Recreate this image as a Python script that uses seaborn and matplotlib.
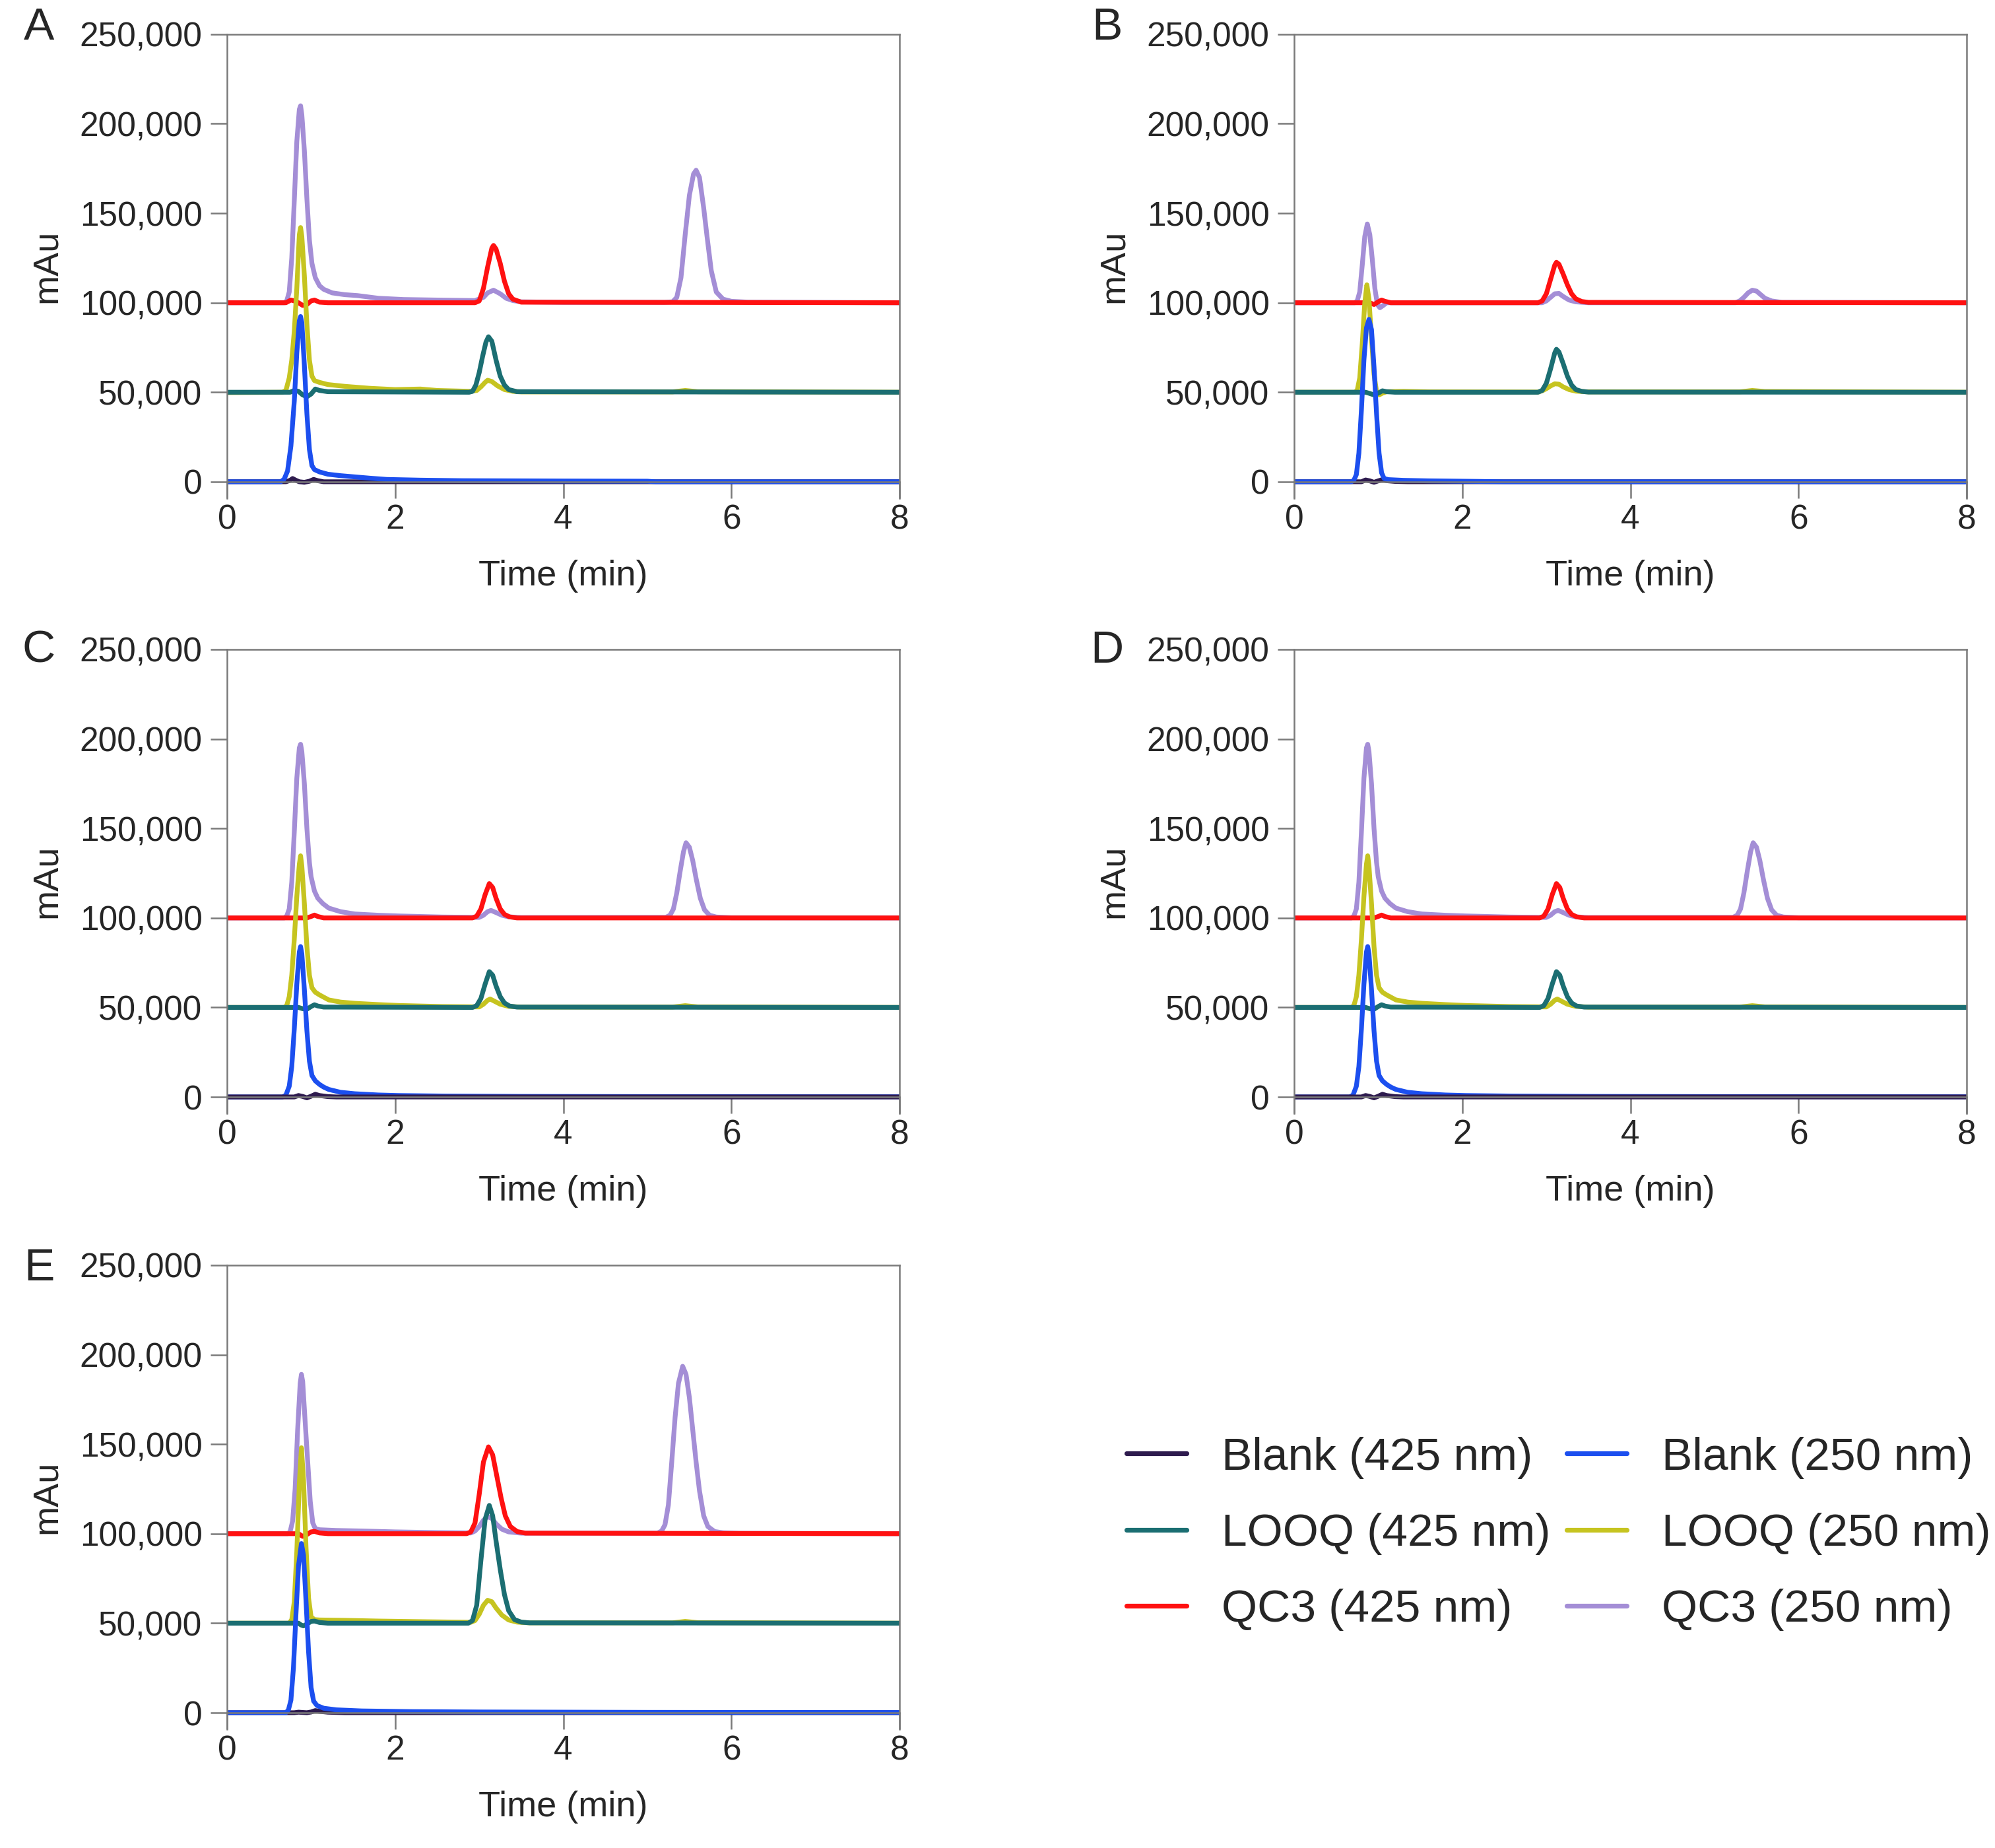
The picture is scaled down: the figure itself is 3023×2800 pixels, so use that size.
import matplotlib
matplotlib.use("Agg")
import matplotlib.pyplot as plt
from matplotlib.lines import Line2D
from matplotlib.ticker import FuncFormatter
import pandas as pd
import seaborn as sns

# trace names
BLANK_425 = "Blank (425 nm)"
BLANK_250 = "Blank (250 nm)"
LOOQ_425 = "LOOQ (425 nm)"
LOOQ_250 = "LOOQ (250 nm)"
QC3_425 = "QC3 (425 nm)"
QC3_250 = "QC3 (250 nm)"

TRACE_COLORS = {
    BLANK_425: "#2E1B4E",
    BLANK_250: "#1C4FEF",
    LOOQ_425: "#1B6E72",
    LOOQ_250: "#C6C420",
    QC3_425: "#FF1111",
    QC3_250: "#A48ED6",
}

# ---- data: time (min) / signal (thousand mAu) ----
# panel A
A_BLANK425_T = [0, 0.70, 0.75, 0.78, 0.82, 0.86, 0.92, 0.98, 1.03, 1.08, 1.15, 8]
A_BLANK425_Y = [0, 0, 0.8, 1.8, 0.8, 0, -0.3, 0.3, 1.3, 0.6, 0, 0]
A_BLANK250_T = [0, 0.64, 0.68, 0.72, 0.76, 0.80, 0.83, 0.86, 0.875, 0.89, 0.92, 0.95, 0.98, 1.01, 1.04,
                1.10, 1.20, 1.35, 1.50, 1.70, 1.90, 2.30, 2.80, 4.00, 5.00, 5.10, 8]
A_BLANK250_Y = [0, 0, 1.5, 6, 20, 45, 72, 90, 92.3, 89, 65, 38, 18, 9, 6.8,
                5.5, 4.2, 3.4, 2.8, 2.0, 1.3, 0.9, 0.6, 0.4, 0.3, 0, 0]
A_LOOQ425_T = [0, 0.75, 0.80, 0.85, 0.90, 0.95, 1.00, 1.05, 1.10, 1.20, 2.88, 2.92, 2.96, 3.00, 3.04,
               3.08, 3.11, 3.15, 3.20, 3.25, 3.30, 3.35, 3.45, 8]
A_LOOQ425_Y = [50, 50, 51, 50.5, 48.5, 47.5, 49, 51.8, 51, 50.3, 50, 50.5, 54, 61, 70,
               78, 81, 78.5, 68, 59, 54, 51.5, 50.3, 50]
A_LOOQ250_T = [0, 0.66, 0.70, 0.74, 0.77, 0.80, 0.83, 0.86, 0.875, 0.89, 0.92, 0.95, 0.98, 1.01, 1.04,
               1.10, 1.20, 1.40, 1.70, 2.00, 2.30, 2.50, 2.90, 2.97, 3.02, 3.07, 3.10, 3.15, 3.22, 3.30,
               3.40, 3.50, 5.30, 5.45, 5.60, 8]
A_LOOQ250_Y = [49.8, 50, 51, 58, 68, 84, 108, 138, 142, 137, 115, 88, 68, 59, 56.5,
               55.5, 54.3, 53.3, 52.2, 51.5, 51.8, 51, 50.5, 51, 53, 55.5, 56.7, 56, 53.5, 51.5,
               50.5, 50.2, 50.2, 51, 50.3, 50]
A_QC3425_T = [0, 0.70, 0.76, 0.80, 0.85, 0.90, 0.95, 1.00, 1.04, 1.10, 1.20, 2.95, 3.00, 3.05, 3.10,
              3.15, 3.17, 3.20, 3.25, 3.30, 3.35, 3.40, 3.50, 8]
A_QC3425_Y = [100, 100, 101.5, 101, 100, 98.5, 99, 101, 101.5, 100.3, 100, 100, 101, 108, 120,
              130.5, 132, 130, 122, 112, 105, 102, 100.3, 100]
A_QC3250_T = [0, 0.68, 0.71, 0.74, 0.77, 0.80, 0.83, 0.86, 0.875, 0.89, 0.92, 0.95, 0.98, 1.01, 1.05,
              1.10, 1.15, 1.25, 1.40, 1.55, 1.80, 2.10, 2.50, 2.95, 3.05, 3.10, 3.17, 3.25, 3.32, 3.40,
              3.50, 4.00, 5.20, 5.30, 5.35, 5.40, 5.45, 5.50, 5.55, 5.58, 5.62, 5.67, 5.71, 5.76, 5.82,
              5.90, 6.00, 6.20, 8]
A_QC3250_Y = [100, 100, 101, 106, 125, 157, 190, 208, 210, 205, 185, 158, 135, 122, 114,
              109.5, 107.5, 105.5, 104.5, 104, 102.5, 101.8, 101.5, 101.2, 103, 105.5, 107, 105, 102.5, 101.2,
              100.5, 100.2, 100.2, 100.5, 103, 114, 138, 160, 172, 174, 170, 153, 137, 118, 106,
              102, 100.8, 100.3, 100]

# panel B
B_BLANK425_T = [0, 0.80, 0.85, 0.90, 0.95, 1.00, 1.05, 1.10, 1.20, 1.35, 8]
B_BLANK425_Y = [0, 0, 1.0, 0.5, -0.3, 0.5, 1.2, 0.6, 0.2, 0, 0]
B_BLANK250_T = [0, 0.68, 0.71, 0.74, 0.77, 0.80, 0.83, 0.86, 0.89, 0.92, 0.95, 0.98, 1.01, 1.04, 1.07,
                1.12, 1.30, 1.60, 2.20, 2.50, 8]
B_BLANK250_Y = [0, 0, 0.8, 4, 16, 40, 68, 86, 90.7, 85, 64, 38, 16, 5, 1.8,
                1.2, 0.8, 0.5, 0.2, 0, 0]
B_LOOQ425_T = [0, 0.85, 0.90, 0.95, 1.00, 1.05, 1.10, 1.20, 2.90, 2.95, 3.00, 3.05, 3.10, 3.12, 3.15,
               3.20, 3.25, 3.30, 3.35, 3.42, 3.50, 8]
B_LOOQ425_Y = [50, 50, 49.3, 48.5, 49.5, 50.8, 50.3, 50, 50, 51, 55, 63, 72, 74, 72.5,
               66, 59, 54, 51.5, 50.5, 50.1, 50]
B_LOOQ250_T = [0, 0.72, 0.75, 0.78, 0.81, 0.84, 0.865, 0.89, 0.92, 0.95, 0.98, 1.01, 1.05, 1.10, 1.30,
               1.60, 2.90, 2.95, 3.00, 3.05, 3.10, 3.15, 3.20, 3.27, 3.35, 3.50, 5.30, 5.45, 5.60, 8]
B_LOOQ250_Y = [50, 50, 51, 58, 77, 100, 110, 102, 80, 60, 50.5, 48.5, 49.5, 50.3, 50.5,
               50.2, 50.1, 50.8, 52, 53.5, 54.7, 54.5, 53, 51.5, 50.6, 50.2, 50.2, 51, 50.4, 50]
B_QC3425_T = [0, 0.90, 0.95, 1.00, 1.04, 1.08, 1.15, 2.90, 2.95, 3.00, 3.05, 3.10, 3.12, 3.15, 3.20,
              3.25, 3.30, 3.35, 3.42, 3.50, 8]
B_QC3425_Y = [100, 100, 99, 100.5, 101.5, 100.8, 100, 100, 101, 105, 113, 121, 122.6, 121.5, 116,
              110, 105, 102.2, 100.7, 100.2, 100]
B_QC3250_T = [0, 0.72, 0.75, 0.78, 0.81, 0.84, 0.87, 0.90, 0.93, 0.96, 0.99, 1.02, 1.06, 1.10, 2.95,
              3.00, 3.05, 3.10, 3.15, 3.20, 3.27, 3.35, 3.50, 5.25, 5.30, 5.35, 5.40, 5.45, 5.50, 5.55,
              5.60, 5.68, 5.80, 8]
B_QC3250_Y = [100, 100, 101, 106, 121, 137, 144, 138, 124, 108, 99, 97.2, 98.5, 100, 100,
              101, 103, 105, 105.2, 103.5, 101.5, 100.5, 100, 100, 101, 103, 105.5, 107, 106.5, 104.5,
              102.5, 101, 100.2, 100]

# panel C (panel D reads identical)
C_BLANK425_T = [0, 0.80, 0.85, 0.90, 0.95, 1.00, 1.05, 1.10, 1.20, 1.30, 8]
C_BLANK425_Y = [0, 0, 0.8, 0.3, -0.5, 0.4, 1.5, 0.8, 0.2, 0, 0]
C_BLANK250_T = [0, 0.66, 0.70, 0.74, 0.77, 0.80, 0.83, 0.86, 0.875, 0.89, 0.92, 0.95, 0.98, 1.01, 1.05,
                1.10, 1.15, 1.21, 1.35, 1.52, 1.80, 2.04, 2.60, 3.50, 5.00, 8]
C_BLANK250_Y = [0, 0, 1, 6, 17, 38, 63, 81, 84, 80, 60, 37, 20, 12, 9,
                7, 5.5, 4.2, 2.6, 1.8, 1.1, 0.8, 0.5, 0.3, 0.2, 0.1]
C_LOOQ425_T = [0, 0.85, 0.90, 0.95, 1.00, 1.04, 1.08, 1.15, 2.92, 2.97, 3.02, 3.07, 3.12, 3.16, 3.20,
               3.25, 3.30, 3.36, 3.45, 8]
C_LOOQ425_Y = [50, 50, 49.3, 49, 50.5, 51.5, 50.8, 50.2, 50, 51, 55, 63, 70, 68, 62,
               56, 52.5, 50.8, 50.2, 50]
C_LOOQ250_T = [0, 0.68, 0.71, 0.74, 0.77, 0.80, 0.83, 0.86, 0.875, 0.89, 0.92, 0.95, 0.98, 1.01, 1.05,
               1.10, 1.21, 1.35, 1.52, 1.80, 2.04, 2.56, 3.00, 3.05, 3.10, 3.13, 3.18, 3.25, 3.35, 3.50,
               5.30, 5.45, 5.60, 8]
C_LOOQ250_Y = [50, 50, 51, 56, 68, 88, 112, 130, 134.7, 129, 108, 84, 68, 61, 58.5,
               57, 54.2, 53, 52.3, 51.6, 51.1, 50.5, 50.3, 51.8, 54, 54.7, 53.5, 51.8, 50.6, 50.2,
               50.2, 51, 50.3, 50]
C_QC3425_T = [0, 0.95, 1.00, 1.04, 1.08, 1.15, 2.92, 2.97, 3.02, 3.07, 3.12, 3.16, 3.20, 3.25, 3.30,
              3.36, 3.45, 8]
C_QC3425_Y = [100, 100, 100.8, 101.6, 100.8, 100, 100, 101, 105, 113, 119.2, 117, 111, 105, 102,
              100.6, 100, 100]
C_QC3250_T = [0, 0.68, 0.71, 0.74, 0.77, 0.80, 0.83, 0.86, 0.875, 0.89, 0.92, 0.95, 0.98, 1.00, 1.04,
              1.08, 1.14, 1.21, 1.35, 1.52, 1.80, 2.04, 2.56, 3.00, 3.05, 3.10, 3.14, 3.20, 3.27, 3.35,
              3.50, 5.22, 5.27, 5.31, 5.35, 5.39, 5.43, 5.46, 5.50, 5.54, 5.58, 5.63, 5.68, 5.74, 5.82,
              6.00, 8]
C_QC3250_Y = [100, 100, 101, 105, 120, 148, 178, 195, 197, 193, 175, 150, 131, 123, 115,
              111, 108, 105.5, 103.5, 102.2, 101.5, 101.1, 100.5, 100.3, 101.5, 103.5, 104.2, 103, 101.5, 100.6,
              100.2, 100.3, 101.5, 105, 114, 126, 137, 142, 139.5, 132, 122, 111, 104.5, 101.5, 100.5,
              100.1, 100]

# panel E
E_BLANK425_T = [0, 0.80, 0.85, 0.95, 1.00, 1.05, 1.10, 1.20, 1.40, 8]
E_BLANK425_Y = [0, 0, 0.3, 0, 0.4, 1.2, 0.8, 0.3, 0, 0]
E_BLANK250_T = [0, 0.70, 0.73, 0.76, 0.79, 0.82, 0.85, 0.885, 0.91, 0.94, 0.97, 1.00, 1.03, 1.07, 1.15,
                1.30, 1.60, 2.20, 3.00, 5.00, 8]
E_BLANK250_Y = [0, 0, 1.5, 7, 25, 55, 82, 94.5, 88, 62, 34, 14, 6.5, 4, 2.5,
                1.6, 1.0, 0.6, 0.4, 0.2, 0.1]
E_LOOQ425_T = [0, 0.85, 0.88, 0.91, 0.95, 1.00, 1.04, 1.10, 1.20, 2.87, 2.92, 2.97, 3.02, 3.07, 3.12,
               3.16, 3.20, 3.25, 3.30, 3.35, 3.42, 3.50, 3.60, 8]
E_LOOQ425_Y = [50, 50, 49, 48.5, 49.5, 51, 51.2, 50.4, 50, 50, 51.5, 60, 85, 108, 115.8,
               110, 96, 80, 66, 57, 52, 50.6, 50.2, 50]
E_LOOQ250_T = [0, 0.74, 0.77, 0.80, 0.83, 0.86, 0.885, 0.91, 0.94, 0.97, 1.00, 1.04, 1.10, 1.40, 1.80,
               2.40, 2.90, 2.95, 3.00, 3.05, 3.10, 3.15, 3.20, 3.27, 3.35, 3.45, 3.60, 5.30, 5.45, 5.60, 8]
E_LOOQ250_Y = [50, 50, 52, 62, 90, 128, 148, 130, 92, 64, 53.5, 52, 51.8, 51.6, 51.2,
               50.8, 50.5, 51.5, 55, 60, 62.8, 62, 58.5, 54.5, 51.8, 50.6, 50.2, 50.2, 51, 50.3, 50]
E_QC3425_T = [0, 0.85, 0.90, 0.95, 1.00, 1.04, 1.10, 1.20, 2.85, 2.90, 2.95, 3.00, 3.05, 3.11, 3.16,
              3.21, 3.26, 3.31, 3.37, 3.45, 3.55, 8]
E_QC3425_Y = [100, 100, 98.5, 99.5, 101, 101.3, 100.4, 100, 100, 101, 106, 122, 140, 148.5, 144,
              132, 120, 110, 104, 101.2, 100.3, 100]
E_QC3250_T = [0, 0.72, 0.75, 0.78, 0.81, 0.84, 0.87, 0.885, 0.90, 0.93, 0.96, 0.99, 1.02, 1.05, 1.10,
              1.30, 1.60, 2.00, 2.50, 2.90, 2.95, 3.00, 3.05, 3.10, 3.15, 3.20, 3.27, 3.35, 3.50, 5.12,
              5.17, 5.21, 5.25, 5.29, 5.33, 5.37, 5.42, 5.46, 5.50, 5.54, 5.58, 5.62, 5.67, 5.72, 5.80,
              5.90, 6.10, 8]
E_QC3250_Y = [100, 100, 101, 107, 125, 158, 184, 189, 185, 162, 140, 118, 106, 102.8, 102.2,
              101.8, 101.5, 101, 100.6, 100.4, 101.5, 104, 107.5, 109.5, 108.5, 105.5, 102.5, 101, 100.3, 100.3,
              101.5, 105, 116, 140, 165, 184, 193.5, 189, 176, 158, 140, 124, 110, 104, 101.2,
              100.5, 100.2, 100]

Y_TICKS = [0, 50000, 100000, 150000, 200000, 250000]
X_TICKS = [0, 2, 4, 6, 8]
LEGEND_ORDER = [BLANK_425, LOOQ_425, QC3_425, BLANK_250, LOOQ_250, QC3_250]

PANEL_C = {
    BLANK_425: (C_BLANK425_T, C_BLANK425_Y), BLANK_250: (C_BLANK250_T, C_BLANK250_Y),
    LOOQ_425: (C_LOOQ425_T, C_LOOQ425_Y), LOOQ_250: (C_LOOQ250_T, C_LOOQ250_Y),
    QC3_425: (C_QC3425_T, C_QC3425_Y), QC3_250: (C_QC3250_T, C_QC3250_Y),
}
PANELS = {
    "A": {
        BLANK_425: (A_BLANK425_T, A_BLANK425_Y), BLANK_250: (A_BLANK250_T, A_BLANK250_Y),
        LOOQ_425: (A_LOOQ425_T, A_LOOQ425_Y), LOOQ_250: (A_LOOQ250_T, A_LOOQ250_Y),
        QC3_425: (A_QC3425_T, A_QC3425_Y), QC3_250: (A_QC3250_T, A_QC3250_Y),
    },
    "B": {
        BLANK_425: (B_BLANK425_T, B_BLANK425_Y), BLANK_250: (B_BLANK250_T, B_BLANK250_Y),
        LOOQ_425: (B_LOOQ425_T, B_LOOQ425_Y), LOOQ_250: (B_LOOQ250_T, B_LOOQ250_Y),
        QC3_425: (B_QC3425_T, B_QC3425_Y), QC3_250: (B_QC3250_T, B_QC3250_Y),
    },
    "C": PANEL_C,
    "D": PANEL_C,
    "E": {
        BLANK_425: (E_BLANK425_T, E_BLANK425_Y), BLANK_250: (E_BLANK250_T, E_BLANK250_Y),
        LOOQ_425: (E_LOOQ425_T, E_LOOQ425_Y), LOOQ_250: (E_LOOQ250_T, E_LOOQ250_Y),
        QC3_425: (E_QC3425_T, E_QC3425_Y), QC3_250: (E_QC3250_T, E_QC3250_Y),
    },
}

# layout (figure fractions) and draw order
AXES_RECTS = {
    "A": [0.1138, 0.7304, 0.3371, 0.2511],
    "B": [0.6487, 0.7304, 0.3371, 0.2511],
    "C": [0.1138, 0.3975, 0.3371, 0.2511],
    "D": [0.6487, 0.3975, 0.3371, 0.2511],
    "E": [0.1138, 0.0643, 0.3371, 0.2511],
}
LETTER_POS = {"A": (0.0195, 0.985), "B": (0.5550, 0.985), "C": (0.0195, 0.6480),
              "D": (0.5550, 0.6480), "E": (0.0195, 0.3136)}
ORDER_BLUE_TOP = [QC3_250, QC3_425, LOOQ_250, LOOQ_425, BLANK_425, BLANK_250]
ORDER_DARK_TOP = [QC3_250, QC3_425, LOOQ_250, LOOQ_425, BLANK_250, BLANK_425]
DRAW_ORDER = {"A": ORDER_BLUE_TOP, "B": ORDER_BLUE_TOP, "C": ORDER_DARK_TOP,
              "D": ORDER_DARK_TOP, "E": ORDER_BLUE_TOP}

SPINE_GRAY = "#7a7a7a"
LW = 2.6

sns.set_style("ticks")
plt.rcParams["font.family"] = ["Liberation Sans", "DejaVu Sans"]


def panel_frame(traces):
    parts = []
    for name, (t, y) in traces.items():
        parts.append(pd.DataFrame({"time": t, "mAu": [v * 1000 for v in y], "trace": name}))
    return pd.concat(parts, ignore_index=True)


fig = plt.figure(figsize=(3023 / 200, 2800 / 200), dpi=200)

for key, rect in AXES_RECTS.items():
    ax = fig.add_axes(rect)
    df = panel_frame(PANELS[key])
    sns.lineplot(data=df, x="time", y="mAu", hue="trace", hue_order=DRAW_ORDER[key],
                 palette=TRACE_COLORS, sort=False, estimator=None, legend=False,
                 linewidth=LW, ax=ax)

    ax.set_xlim(0, 8)
    ax.set_ylim(-9200, 250000)
    ax.set_xticks(X_TICKS)
    ax.set_yticks(Y_TICKS)
    ax.yaxis.set_major_formatter(FuncFormatter(lambda v, p: f"{v:,.0f}"))
    ax.spines["bottom"].set_position(("data", 0))
    for s in ax.spines.values():
        s.set_color(SPINE_GRAY)
        s.set_linewidth(0.9)
    ax.tick_params(direction="out", length=9, width=0.9, color=SPINE_GRAY, labelsize=18.5)
    ax.tick_params(axis="x", pad=3)
    ax.tick_params(axis="y", pad=4.5)

    ax.set_xlabel("Time (min)", fontsize=19.5)
    ax.set_ylabel("mAu", fontsize=19.5)
    ax.xaxis.set_label_coords(0.5, -0.168)
    ax.xaxis.label.set_va("center")
    ax.yaxis.set_label_coords(-0.268, 0.5)
    ax.yaxis.label.set_va("center")

    lx, ly = LETTER_POS[key]
    fig.text(lx, ly, key, fontsize=25, ha="center", va="center")

handles = [Line2D([], [], color=TRACE_COLORS[n], lw=LW) for n in LEGEND_ORDER]
fig.legend(handles, LEGEND_ORDER, loc="center left", bbox_to_anchor=(0.5647, 0.1700),
           ncol=2, frameon=False, fontsize=25, handlelength=1.31, handletextpad=0.76,
           columnspacing=0.36, labelspacing=0.74, borderpad=0, borderaxespad=0)

fig.savefig("out.png", dpi=200)
